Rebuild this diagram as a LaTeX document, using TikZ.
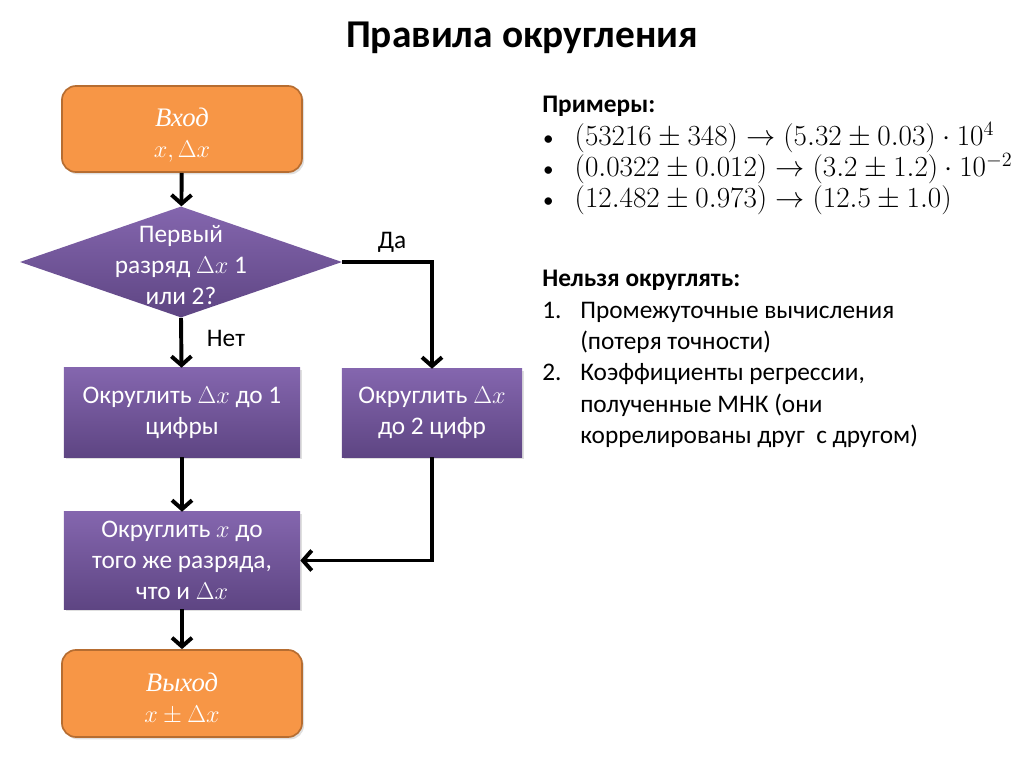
\documentclass[tikz,border=0pt]{standalone}
\usepackage{fontspec}
\setmainfont{Carlito}
\newfontfamily\serifit{Liberation Serif}
\usetikzlibrary{shapes.geometric,arrows.meta,shadows}

\definecolor{boxorange}{HTML}{F79646}
\definecolor{orangeedge}{HTML}{B66D31}
\definecolor{purpletop}{HTML}{8466AE}
\definecolor{purplebot}{HTML}{5E4583}

\newcommand{\bul}{\makebox[0.86cm][l]{\hspace{2pt}\fontsize{15}{15}\selectfont•}}

\tikzset{
  body/.style={font=\fontsize{18}{22}\selectfont},
  terminal/.style={font=\fontsize{19}{22}\selectfont, rounded corners=0.35cm, fill=boxorange, draw=orangeedge, line width=1.2pt,
    minimum width=6cm, text=white, align=center,
    drop shadow={opacity=0.25, shadow xshift=0.05cm, shadow yshift=-0.06cm}},
  process/.style={body, top color=purpletop, bottom color=purplebot, text=white, align=center,
    drop shadow={opacity=0.25, shadow xshift=0.05cm, shadow yshift=-0.06cm}},
  decision/.style={diamond, top color=purpletop, bottom color=purplebot, inner sep=0pt,
    minimum width=8.05cm, minimum height=2.775cm},
  flow/.style={line width=2.8pt, -{Straight Barb[length=0.22cm, width=0.5cm, line width=2.8pt]}},
  listline/.style={body, anchor=base west, inner sep=0pt},
  mathline/.style={font=\fontsize{19.5}{24}\selectfont, anchor=base west, inner sep=0pt},
}

\begin{document}
\begin{tikzpicture}[x=0.025cm, y=-0.025cm]
  \useasboundingbox (0,0) rectangle (1024,768);

  \node[font=\bfseries\fontsize{28}{34}\selectfont] (title) at (522,38) {Правила округления};

  % flowchart
  \node[terminal, minimum height=2.15cm] (start) at (182,129) {};
  \node[white, font=\fontsize{19}{22}\selectfont, align=center] (starttext) at (182,135) {{\serifit\itshape Вход}\\$x,\Delta x$};
  \node[decision] (ask) at (181,262) {};
  \node[body, text=white, align=center] (asktext) at (181,265) {Первый\\разряд $\Delta x$ 1\\или 2?};
  \node[process, minimum width=5.9cm, minimum height=2.225cm] (one) at (182,412.5) {Округлить $\Delta x$ до 1\\цифры};
  \node[process, minimum width=4.5cm, minimum height=2.2cm] (two) at (432,413) {Округлить $\Delta x$\\до 2 цифр};
  \node[process, minimum width=5.9cm, minimum height=2.425cm] (same) at (182,560.5) {Округлить $x$ до\\того же разряда,\\что и $\Delta x$};
  \node[terminal, minimum height=2.175cm] (stop) at (182,693.5) {};
  \node[white, font=\fontsize{19}{22}\selectfont, align=center] (stoptext) at (182,699) {{\serifit\itshape Выход}\\$x\pm\Delta x$};

  \node[body] (yes) at (392,242) {Да};
  \node[body] (no) at (226,338) {Нет};

  \draw[flow] (start) -- (ask);
  \draw[flow] (ask.south) -- (one);
  \draw[flow] (ask.east) -| (two);
  \draw[flow] (one) -- (same);
  \draw[flow] (two.south) |- (same.east);
  \draw[flow] (same) -- (stop);

  % examples
  \node[listline, font=\bfseries\fontsize{18}{22}\selectfont] (examples) at (542,113) {Примеры:};
  \node[mathline] (ex1) at (540,146) {\bul$(53216\pm348)\to(5.32\pm0.03)\cdot10^{4}$};
  \node[mathline] (ex2) at (540,177) {\bul$(0.0322\pm0.012)\to(3.2\pm1.2)\cdot10^{-2}$};
  \node[mathline] (ex3) at (540,207) {\bul$(12.482\pm0.973)\to(12.5\pm1.0)$};

  % do not round
  \node[listline, font=\bfseries\fontsize{18}{22}\selectfont] (never) at (542,286) {Нельзя округлять:};
  \node[listline] (n1) at (542,318) {\makebox[0.95cm][l]{1.}Промежуточные вычисления};
  \node[listline] (n1b) at (580,349) {(потеря точности)};
  \node[listline] (n2) at (542,380) {\makebox[0.95cm][l]{2.}Коэффициенты регрессии,};
  \node[listline] (n2b) at (580,412) {полученные МНК (они};
  \node[listline] (n2c) at (580,443) {коррелированы друг\ \ с другом)};
\end{tikzpicture}
\end{document}
